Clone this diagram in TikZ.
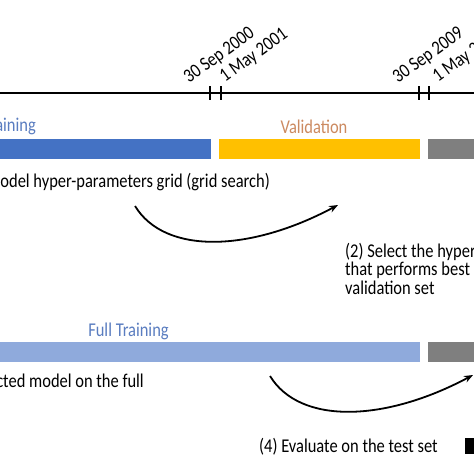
\documentclass[tikz,border=0pt]{standalone}
\usepackage{fontspec}
\setmainfont{Carlito}[FakeStretch=0.845]
\usetikzlibrary{arrows.meta}

\definecolor{trainblue}{HTML}{4472C4}
\definecolor{fullblue}{HTML}{8FAADC}
\definecolor{valyellow}{HTML}{FFC000}
\definecolor{testgray}{HTML}{7F7F7F}
\definecolor{lblblue}{HTML}{5A7DC0}
\definecolor{lblorange}{HTML}{CC8A60}

\begin{document}
\begin{tikzpicture}[x=1pt, y=-1pt,
  txt/.style={font=\fontsize{19.5}{19.5}\selectfont, inner sep=0pt},
  datelbl/.style={txt, rotate=36, anchor=base west},
  curvearrow/.style={line width=1.8pt, -{Stealth[length=9pt,width=7pt]}}]

  % ---- page: the reference is cut on all sides ----
  \useasboundingbox (0,0) rectangle (474,474);
  \clip (0,0) rectangle (474,474);
  \fill[white] (0,0) rectangle (474,474);

  % ---- time axis ----
  \draw[line width=2pt] (-5,92.5) -- (480,92.5);
  \foreach \xx in {210,221,419,429} {
    \draw[line width=2pt] (\xx,86) -- (\xx,100);
  }
  \foreach \nm/\xx/\yy/\lab in {d1/189/84/{30 Sep 2000}, d2/225/83/{1 May 2001},
                                d3/398/84/{30 Sep 2009}, d4/438/83/{1 May 2018}} {
    \node[datelbl] (\nm) at (\xx,\yy) {\lab};
  }

  % ---- first row: training / validation / test ----
  \fill[trainblue] (-5,139) rectangle (211,159);
  \fill[valyellow] (219,139) rectangle (420,159);
  \fill[testgray]  (428,139) rectangle (480,159);
  \node[txt, text=lblblue, anchor=base east] (train) at (36,131) {Training};
  \node[txt, text=lblorange, anchor=base] (valid) at (314,133) {Validation};
  \node[txt, anchor=base east] (step1) at (270,187) {model hyper-parameters grid (grid search)};

  \coordinate (a1s) at (135,206);
  \coordinate (a1e) at (338,205);
  \draw[curvearrow] (a1s) .. controls (165,255) and (250,252) .. (a1e);

  \foreach \nm/\yy/\lab in {sel1/257/{(2) Select the hyper},
                            sel2/275.5/{that performs best on},
                            sel3/294/{validation set}} {
    \node[txt, anchor=base west] (\nm) at (345,\yy) {\lab};
  }

  % ---- second row: full training / test ----
  \fill[fullblue] (-5,342) rectangle (420,362);
  \fill[testgray] (428,342) rectangle (480,362);
  \node[txt, text=lblblue, anchor=base] (full) at (128.5,336) {Full Training};
  \node[txt, anchor=base east] (step3) at (144,387) {selected model on the full};

  \coordinate (a2s) at (270,376);
  \coordinate (a2e) at (473,375);
  \draw[curvearrow] (a2s) .. controls (300,425) and (385,422) .. (a2e);

  \node[txt, anchor=base west] (step4) at (259,452) {(4) Evaluate on the test set};
  \fill[black] (465,438) rectangle (480,454);

\end{tikzpicture}
\end{document}
